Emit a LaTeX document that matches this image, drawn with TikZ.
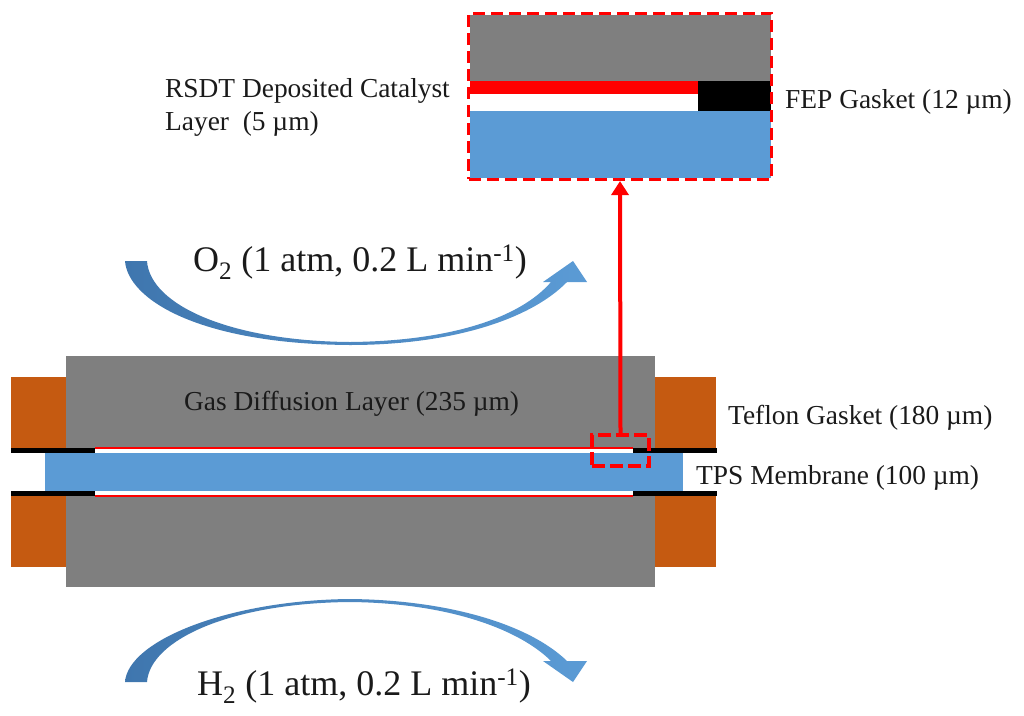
\documentclass[tikz,border=0pt]{standalone}
\usepackage{fontspec}
\setmainfont{Liberation Serif}
\usetikzlibrary{arrows.meta}
\definecolor{gdlgray}{HTML}{7F7F7F}
\definecolor{gasket}{HTML}{C55A11}
\definecolor{memblue}{HTML}{5B9BD5}
\definecolor{flowdark}{HTML}{3F76AE}
\definecolor{ink}{HTML}{1A1A1A}
\tikzset{
  x=1pt,y=-1pt,
  lbl/.style={font=\fontsize{27.4}{32}\selectfont,text=ink,inner sep=0pt,anchor=base west},
  big/.style={font=\fontsize{36}{42}\selectfont,text=ink,inner sep=0pt,anchor=base west},
  zoombox/.style={draw=red,line width=3.5pt,dash pattern=on 12pt off 6pt,inner sep=0pt},
  flow/.style={left color=flowdark,right color=memblue,draw=none}
}
\begin{document}
\begin{tikzpicture}
  \useasboundingbox (0,0) rectangle (1024,715);
  % inset
  \fill[gdlgray] (470,15) rectangle (771,81);
  \fill[red] (470,81) rectangle (698,94);
  \fill[black] (698,81) rectangle (771,111);
  \fill[memblue] (470,111) rectangle (771,178);
  \node[zoombox,minimum width=303pt,minimum height=166pt] (inset) at (620,96.3) {};
  % cell
  \fill[gasket] (11,377) rectangle (66,449);
  \fill[gasket] (11,495) rectangle (66,567);
  \fill[gasket] (655,377) rectangle (716,449);
  \fill[gasket] (655,495) rectangle (716,567);
  \fill[gdlgray] (66,356) rectangle (655,449);
  \fill[gdlgray] (66,495) rectangle (655,587);
  \fill[white] (95,449) rectangle (633,495);
  \fill[memblue] (45,452.5) rectangle (683,491);
  \fill[red] (95,446.5) rectangle (633,449);
  \fill[red] (95,494.5) rectangle (633,497);
  \fill[black] (11,448) rectangle (95,452.5);
  \fill[black] (633,448) rectangle (717,452.5);
  \fill[black] (11,491) rectangle (95,495.5);
  \fill[black] (633,491) rectangle (717,495.5);
  \node[zoombox,line width=4pt,dash pattern=on 13pt off 5pt,minimum width=57pt,minimum height=31pt] (spot) at (620.5,450.5) {};
  \draw[red,line width=4pt,-{Triangle[length=14pt,width=17pt]}] (spot.north) -- (inset.south);
  % flows
  \shade[flow] (125,261) .. controls (128,300) and (200,344) .. (350,345)
    .. controls (450,345) and (530,320) .. (567,282) -- (587,282) -- (573,261) -- (543,282) -- (551,282)
    .. controls (520,318) and (450,341) .. (350,342)
    .. controls (230,341) and (150,305) .. (147,261) -- cycle;
  \shade[flow] (125,682) .. controls (128,640) and (230,600) .. (350,599)
    .. controls (450,600) and (530,625) .. (567,661) -- (587,661) -- (573,682) -- (543,661) -- (551,661)
    .. controls (520,630) and (450,603) .. (350,602)
    .. controls (230,603) and (150,640) .. (147,682) -- cycle;
  % labels
  \node[big] (otwo) at (193,271) {O\textsubscript{2} (1 atm, 0.2 L min\textsuperscript{-1})};
  \node[big] (htwo) at (197,695) {H\textsubscript{2} (1 atm, 0.2 L min\textsuperscript{-1})};
  \node[lbl] (gdl) at (184,410) {Gas Diffusion Layer (235 µm)};
  \node[lbl] (teflon) at (728,424) {Teflon Gasket (180 µm)};
  \node[lbl] (tps) at (696,484) {TPS Membrane (100 µm)};
  \node[lbl] (fep) at (785,108) {FEP Gasket (12 µm)};
  \node[lbl] (rsdt) at (165,97) {RSDT Deposited Catalyst};
  \node[lbl] (rsdtb) at (165,130) {Layer~~(5 µm)};
\end{tikzpicture}
\end{document}
